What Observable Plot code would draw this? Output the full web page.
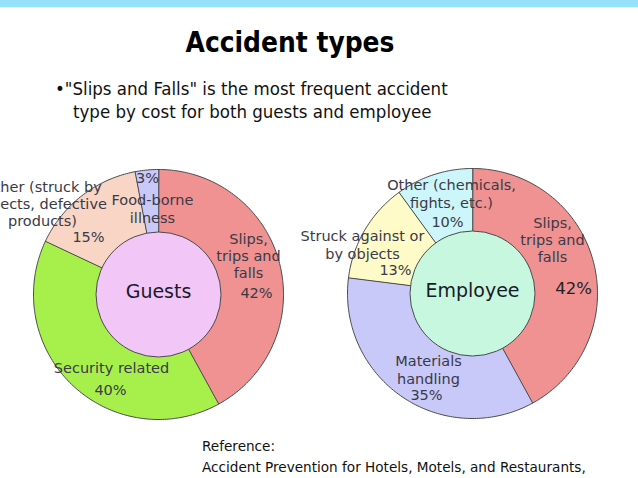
<!DOCTYPE html>
<html><head><meta charset="utf-8">
<script src="https://cdn.jsdelivr.net/npm/d3@7"></script>
<script src="https://cdn.jsdelivr.net/npm/@observablehq/plot@0.6"></script>
<style>
html,body{margin:0;padding:0;background:#fff;width:638px;height:478px;overflow:hidden;position:relative;font-family:"DejaVu Sans",Verdana,sans-serif;}
#bar{position:absolute;left:0;top:0;width:638px;height:7px;background:#96E2FA;}
#title{position:absolute;left:0;width:580px;top:29px;text-align:center;font-weight:bold;font-size:27.8px;line-height:28px;font-stretch:condensed;color:#000;white-space:nowrap;}
#bullet{position:absolute;left:55px;top:77px;font-size:18.5px;line-height:23px;font-stretch:condensed;padding-left:18px;text-indent:-18px;color:#111;white-space:nowrap;}
#chart{position:absolute;left:0;top:140px;}
#ref{position:absolute;left:202px;top:436px;font-size:13.6px;line-height:21px;color:#111;white-space:nowrap;}
</style>
</head>
<body>
<div id="bar"></div>
<div id="title">Accident types</div>
<div id="bullet">•"Slips and Falls" is the most frequent accident<br>type by cost for both guests and employee</div>
<div id="chart"></div>
<div id="ref">Reference:<br>Accident Prevention for Hotels, Motels, and Restaurants,</div>
<script>
// ---- data ----
const chartNames = ["Guests", "Employee"];
const guestCategories = ["Slips,\ntrips and\nfalls", "Security related", "Other (struck by\nobjects, defective\nproducts)", "Food-borne\nillness"];
const guestValues = [42, 40, 15, 3];
const employeeCategories = ["Slips,\ntrips and\nfalls", "Materials\nhandling", "Struck against or\nby objects", "Other (chemicals,\nfights, etc.)"];
const employeeValues = [42, 35, 13, 10];

// ---- styles ----
const guestColors = ["#F09292", "#A7F04C", "#F9D5C6", "#C8C8F9"];
const employeeColors = ["#F09292", "#C8C8F9", "#FFFBC8", "#CDF6FB"];
const centerColors = ["#F3C6F8", "#C8F7DF"];

// ---- layout ----
const W = 638, H = 290, R = 125, r0 = 62.5;
const centers = [[158, 154], [472, 153]];
const nameOffsets = [
  [[90, -39], [-47, 73], [-116, -91], [-6, -86]],
  [[80, -54], [-44, 76], [-110, -49], [-21, -100]]
];
const pctOffsets = [
  [[98, -1], [-48, 96], [-70, -57], [-11, -116]],
  [[101, -5], [-46, 102], [-77, -23], [-25, -71]]
];

const charts = [
  {name: chartNames[0], cats: guestCategories, values: guestValues, colors: guestColors},
  {name: chartNames[1], cats: employeeCategories, values: employeeValues, colors: employeeColors}
].map((c, i) => ({...c, cx: centers[i][0], cy: centers[i][1], center: centerColors[i]}));

const pie = d3.pie().sort(null).value(d => d);
const slicePoints = [], nameLabels = [], pctLabels = [], bigPct = [];
charts.forEach((c, ci) => {
  pie(c.values).forEach((a, i) => {
    const key = c.name + i;
    slicePoints.push({key, x: c.cx, y: c.cy, color: c.colors[i]});
    const n = Math.max(2, Math.ceil((a.endAngle - a.startAngle) / (Math.PI / 180)));
    for (let k = 0; k <= n; k++) {
      const t = a.startAngle + (a.endAngle - a.startAngle) * k / n;
      slicePoints.push({key, x: c.cx + R * Math.sin(t), y: c.cy - R * Math.cos(t), color: c.colors[i]});
    }
    nameLabels.push({x: c.cx + nameOffsets[ci][i][0], y: c.cy + nameOffsets[ci][i][1], text: c.cats[i]});
    const p = {x: c.cx + pctOffsets[ci][i][0], y: c.cy + pctOffsets[ci][i][1], text: a.data + "%"};
    (ci === 1 && i === 0 ? bigPct : pctLabels).push(p);
  });
});

const font = "DejaVu Sans, Verdana, sans-serif";
const plot = Plot.plot({
  width: W, height: H, margin: 0,
  x: {domain: [0, W], range: [0, W], axis: null},
  y: {domain: [0, H], range: [0, H], axis: null},
  color: {type: "identity"},
  style: {background: "transparent", overflow: "hidden"},
  marks: [
    Plot.line(slicePoints, {x: "x", y: "y", z: "key", fill: "color", stroke: "#4a4a4a", strokeWidth: 1, curve: "linear-closed"}),
    Plot.dot(charts, {x: "cx", y: "cy", r: r0, fill: "center", stroke: "#4a4a4a", strokeWidth: 1}),
    Plot.text(nameLabels, {x: "x", y: "y", text: "text", fontSize: 14.5, lineHeight: 1.2, fill: "#3a3a48", fontFamily: font}),
    Plot.text(pctLabels, {x: "x", y: "y", text: "text", fontSize: 14.5, fill: "#3a3a48", fontFamily: font}),
    Plot.text(bigPct, {x: "x", y: "y", text: "text", fontSize: 16.5, fill: "#222", fontFamily: font}),
    Plot.text(charts, {x: "cx", y: d => d.cy - 2.5, text: "name", fontSize: 19, fill: "#1a1a28", fontFamily: font})
  ]
});
document.getElementById("chart").appendChild(plot);
</script>
</body></html>
